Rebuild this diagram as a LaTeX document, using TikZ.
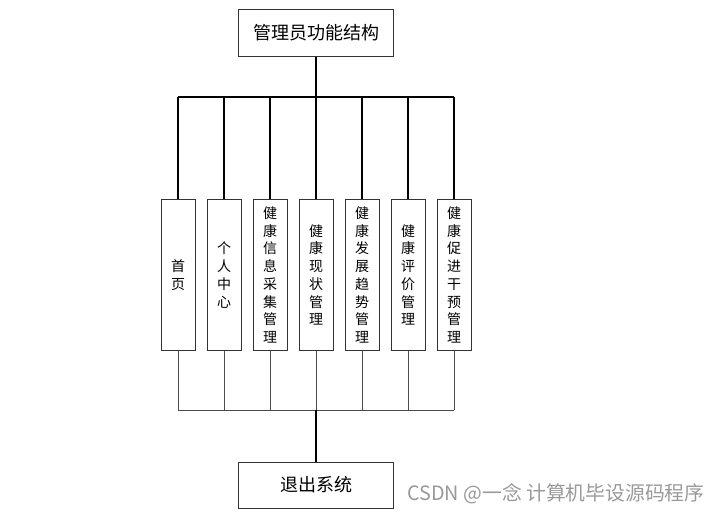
\documentclass[tikz,border=0pt]{standalone}
\usepackage{fontspec}
\newfontfamily\cjk{Noto Sans CJK SC}
\begin{document}
\begin{tikzpicture}[x=1pt,y=-1pt,
  box/.style={draw=black!80,line width=1pt,fill=white,inner sep=0pt,font=\cjk},
  col/.style={box,minimum width=34pt,minimum height=151pt,font=\cjk\fontsize{14}{17.7}\selectfont,align=center,anchor=north},
  bold line/.style={line width=2pt,black},
  thin line/.style={line width=1pt,black!70}]
\useasboundingbox (0,0) rectangle (720,514);
\node[box,minimum width=155pt,minimum height=47pt,font=\cjk\fontsize{18}{20}\selectfont] (top) at (316,32.5) {管理员功能结构};
\node[box,minimum width=155pt,minimum height=46pt,font=\cjk\fontsize{18}{20}\selectfont] (bot) at (316,485) {退出系统};
\foreach \i/\t in {1/首\\页, 2/个\\人\\中\\心, 3/健\\康\\信\\息\\采\\集\\管\\理, 4/健\\康\\现\\状\\管\\理, 5/健\\康\\发\\展\\趋\\势\\管\\理, 6/健\\康\\评\\价\\管\\理, 7/健\\康\\促\\进\\干\\预\\管\\理}{
  \node[col] (c\i) at ({178+46*(\i-1)},199) {\t};
}
\coordinate (tb) at (316,97);
\coordinate (bb) at (316,410);
\draw[bold line] (top.south) -- (tb);
\draw[bold line] (c1.north |- tb) -- (c7.north |- tb);
\foreach \i in {1,...,7}{
  \draw[bold line] (c\i.north |- tb) -- (c\i.north);
  \draw[thin line] (c\i.south) -- (c\i.south |- bb);
}
\draw[thin line] (c1.south |- bb) -- (c7.south |- bb);
\draw[line width=1.5pt,black] (bb) -- (bot.north);
\node[font=\cjk\fontsize{19.8}{22}\selectfont,text=black!40,anchor=west,inner sep=0pt] (wm) at (407,494) {CSDN @一念 计算机毕设源码程序};
\end{tikzpicture}
\end{document}
